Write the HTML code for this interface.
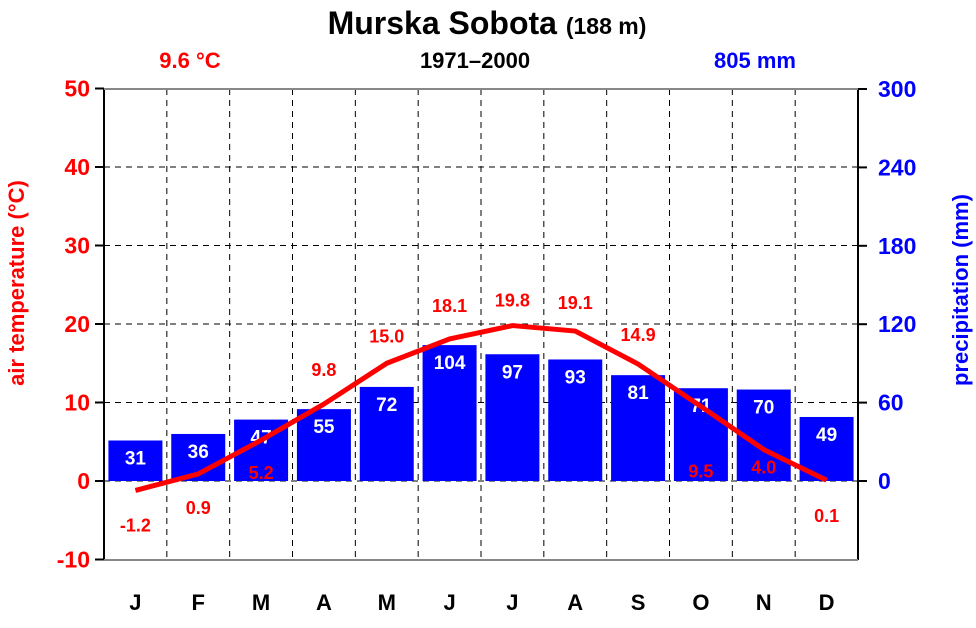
<!DOCTYPE html>
<html><head><meta charset="utf-8"><style>
body{margin:0;background:#fff}
text{font-family:"Liberation Sans",Arial,sans-serif;font-weight:bold}
</style></head><body>
<svg id="c" width="976" height="623" xmlns="http://www.w3.org/2000/svg">
<text x="487" y="34" text-anchor="middle" font-size="32">Murska Sobota <tspan font-size="23">(188 m)</tspan></text>
<text x="190" y="68" text-anchor="middle" font-size="22" fill="#f00">9.6 °C</text>
<text x="475" y="68" text-anchor="middle" font-size="22">1971–2000</text>
<text x="755" y="68" text-anchor="middle" font-size="22" fill="#00f">805 mm</text>
<text transform="translate(24,283) rotate(-90)" text-anchor="middle" font-size="22" fill="#f00">air temperature (°C)</text>
<text transform="translate(968,290) rotate(-90)" text-anchor="middle" font-size="22" fill="#00f">precipitation (mm)</text>
<g id="grid"></g><g id="bars"></g><g id="line"></g><g id="axes"></g>
</svg>
<script>
const months=["J","F","M","A","M","J","J","A","S","O","N","D"];
const temps=[-1.2,0.9,5.2,9.8,15.0,18.1,19.8,19.1,14.9,9.5,4.0,0.1];
const precip=[31,36,47,55,72,104,97,93,81,71,70,49];
const tempTicks=[-10,0,10,20,30,40,50];
const precipTicks=[0,60,120,180,240,300];
const L=104,R=858,T=89,B=560;
const NS="http://www.w3.org/2000/svg";
const yT=v=>481-(v)*7.85;
const yP=v=>481-v*392/300;
const cw=(R-L)/12;
const xC=i=>L+cw*(i+0.5);
function mk(tag,at,parent,txt){const e=document.createElementNS(NS,tag);for(const k in at)e.setAttribute(k,at[k]);if(txt!==undefined)e.textContent=txt;document.getElementById(parent).appendChild(e);return e;}
tempTicks.forEach(t=>{if(t>-10&&t<50){const e=mk('line',{x1:L,x2:R,y1:yT(t),y2:yT(t),stroke:'#000','stroke-width':1,'stroke-dasharray':'6,5'},'grid');}});
for(let i=1;i<12;i++){const e=mk('line',{x1:L+cw*i,x2:L+cw*i,y1:T,y2:B,stroke:'#000','stroke-width':1,'stroke-dasharray':'6,5'},'grid');}
precip.forEach((p,i)=>{const b=mk('rect',{x:xC(i)-27,y:yP(p),width:54,height:481-yP(p),fill:'#00f'},'bars');
const t=mk('text',{x:xC(i),y:yP(p)+24,'text-anchor':'middle','font-size':19,fill:'#fff'},'bars',p);});
const pts=temps.map((t,i)=>xC(i)+','+yT(t)).join(' ');
const pl=mk('polyline',{points:pts,fill:'none',stroke:'#f00','stroke-width':5,'stroke-linejoin':'round'},'line');

const dys=[34,33,32,-35,-28,-34,-26,-29,-30,64,17,35];
temps.forEach((t,i)=>{const e=mk('text',{x:xC(i),y:yT(t)+dys[i]+7,'text-anchor':'middle','font-size':18,fill:'#f00'},'line',t.toFixed(1));});
const a1=mk('line',{x1:L,x2:L,y1:T,y2:B,stroke:'#000','stroke-width':2},'axes');
const a2=mk('line',{x1:R,x2:R,y1:T,y2:B,stroke:'#000','stroke-width':2},'axes');
const a3=mk('line',{x1:L,x2:R,y1:T,y2:T,stroke:'#888','stroke-width':2},'axes');
const a4=mk('line',{x1:L,x2:R,y1:B,y2:B,stroke:'#888','stroke-width':2},'axes');
tempTicks.forEach(t=>{mk('line',{x1:L-9,x2:L,y1:yT(t),y2:yT(t),stroke:'#000','stroke-width':2},'axes');
const e=mk('text',{x:L-14,y:yT(t)+8,'text-anchor':'end','font-size':23,fill:'#f00'},'axes',t);});
precipTicks.forEach(p=>{mk('line',{x1:R,x2:R+9,y1:yP(p),y2:yP(p),stroke:'#000','stroke-width':2},'axes');
const e=mk('text',{x:R+20,y:yP(p)+8,'text-anchor':'start','font-size':23,fill:'#00f'},'axes',p);});
months.forEach((m,i)=>{const e=mk('text',{x:xC(i),y:610,'text-anchor':'middle','font-size':22},'axes',m);});
</script>
</body></html>
